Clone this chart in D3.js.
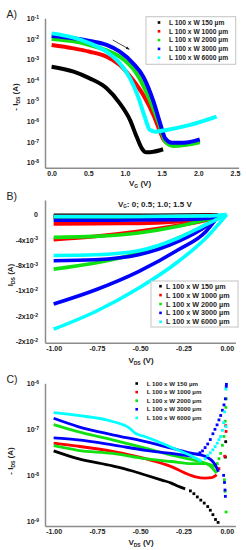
<!DOCTYPE html>
<html>
<head>
<meta charset="utf-8">
<script src="https://cdnjs.cloudflare.com/ajax/libs/d3/7.8.5/d3.min.js"></script>
<style>
  body { margin: 0; background: #fff; }
  svg { display: block; font-family: "Liberation Sans", Arial, sans-serif; }
  .axis path { stroke: #8c8c8c; stroke-width: 1.5; }
  .axis line { display: none; }
  .axis text { fill: #222; font-size: 7px; font-weight: bold; font-family: "Liberation Sans", Arial, sans-serif; }
  .title { fill: #222; font-size: 8px; font-weight: bold; }
  .legend text { fill: #222; font-weight: bold; }
</style>
</head>
<body>
<svg id="chart" width="246" height="550"></svg>
<script>
var seriesNames = ['L 100 x W 150 \u00b5m', 'L 100 x W 1000 \u00b5m', 'L 100 x W 2000 \u00b5m',
  'L 100 x W 3000 \u00b5m', 'L 100 x W 6000 \u00b5m'];
var seriesColors = ['#000000', '#ff0000', '#11e011', '#0000ff', '#00ffff'];

// A) transfer curves, [VG (V), -IDS (A)]
var transferW150 = [[0, 4.5e-4], [0.3, 2.6e-4], [0.52, 1.23e-4], [0.75, 4.1e-5], [0.93, 7.6e-6],
  [1.07, 1.17e-6], [1.16, 1.8e-7], [1.23, 5.0e-8], [1.29, 3.2e-8], [1.39, 3.4e-8], [1.52, 4.5e-8]];
var transferW1000 = [[0, 5.1e-3], [0.3, 3.5e-3], [0.52, 2.4e-3], [0.75, 1.38e-3], [0.93, 5.5e-4],
  [1.11, 1.02e-4], [1.25, 1.9e-5], [1.39, 2.0e-6], [1.48, 3.2e-7], [1.53, 1.26e-7], [1.61, 8.1e-8],
  [1.75, 7.2e-8], [2.02, 1.17e-7]];
var transferW2000 = [[0, 1.0e-2], [0.3, 7.6e-3], [0.52, 5.1e-3], [0.75, 2.8e-3], [0.93, 1.38e-3],
  [1.16, 2.1e-4], [1.34, 1.1e-5], [1.48, 5.6e-7], [1.55, 1.05e-7], [1.66, 6.5e-8], [2.02, 9.8e-8]];
var transferW3000 = [[0, 1.38e-2], [0.3, 1.07e-2], [0.52, 7.9e-3], [0.75, 5.1e-3], [0.93, 2.4e-3],
  [1.11, 6.6e-4], [1.25, 1.48e-4], [1.39, 9.1e-6], [1.48, 8.1e-7], [1.55, 1.5e-7], [1.64, 9.3e-8],
  [1.8, 9.3e-8], [2.02, 1.35e-7]];
var transferW6000 = [[0, 1.86e-2], [0.3, 1.15e-2], [0.52, 6.2e-3], [0.75, 2.4e-3], [0.93, 6.6e-4],
  [1.07, 1.23e-4], [1.18, 1.6e-5], [1.27, 1.7e-6], [1.34, 3.9e-7], [1.41, 3.2e-7], [1.57, 3.9e-7],
  [1.89, 6.8e-7], [2.25, 1.7e-6]];
var transferTicksX = [0, 0.5, 1.0, 1.5, 2.0, 2.5];
var transferTicksY = [1e-8, 1e-7, 1e-6, 1e-5, 1e-4, 1e-3, 1e-2, 1e-1];

// B) output curves for VG = 0; 0.5; 1.0; 1.5 V, [VDS (V), IDS (A)]
var outputW150 = [
  [[-1, -0.00045], [-0.76, -0.00043], [-0.51, -0.0004], [-0.28, -0.0003], [-0.12, -0.00017], [-0.05, -0.00005]],
  [[-1, -0.0001], [-0.51, -0.0001], [-0.05, -0.00002]]
];
var outputW1000 = [
  [[-1, -0.00396], [-0.76, -0.00344], [-0.51, -0.00265], [-0.28, -0.0017], [-0.12, -0.0009], [-0.05, -0.0003]],
  [[-1, -0.00147], [-0.76, -0.00143], [-0.51, -0.00138], [-0.28, -0.00111], [-0.12, -0.00074], [-0.05, -0.0003]],
  [[-1, -0.0003], [-0.51, -0.0003], [-0.05, -0.0001]]
];
var outputW2000 = [
  [[-1, -0.0086], [-0.76, -0.00765], [-0.51, -0.00607], [-0.28, -0.00369], [-0.12, -0.00158], [-0.05, -0.0003]],
  [[-1, -0.0036], [-0.76, -0.00344], [-0.51, -0.0029], [-0.28, -0.00185], [-0.12, -0.0008], [-0.05, -0.0003]],
  [[-1, -0.0005], [-0.51, -0.00048], [-0.12, -0.0003], [-0.05, -0.0002]]
];
var outputW3000 = [
  [[-1, -0.0141], [-0.76, -0.01189], [-0.51, -0.00899], [-0.28, -0.00555], [-0.12, -0.00265], [-0.05, -0.0003]],
  [[-1, -0.00729], [-0.76, -0.00713], [-0.51, -0.00634], [-0.28, -0.00423], [-0.12, -0.00185], [-0.05, -0.0003]],
  [[-1, -0.0009], [-0.76, -0.0009], [-0.51, -0.00085], [-0.28, -0.0008], [-0.12, -0.0006], [-0.05, -0.0003]]
];
var outputW6000 = [
  [[-1, -0.01807], [-0.76, -0.01532], [-0.51, -0.01162], [-0.28, -0.0074], [-0.12, -0.00369], [0, 0]],
  [[-1, -0.00645], [-0.76, -0.00634], [-0.51, -0.00571], [-0.28, -0.00369], [-0.12, -0.00158], [0, 0]],
  [[-1, -0.0003], [-0.51, -0.0003], [-0.12, -0.0002], [0, 0]]
];
var outputTicksY = [0, -0.004, -0.008, -0.012, -0.016, -0.02];
var outputTickLabels = [['0', ''], ['-4x10', '-3'], ['-8x10', '-3'], ['-1x10', '-2'], ['-2x10', '-2'], ['-2x10', '-2']];
var vdsTicks = [-1.0, -0.75, -0.5, -0.25, 0];

// C) -IDS vs VDS at VG = 1.5 V; dense part drawn as a band, sparse points as squares
var offW150 = [[-1.0, 3.4e-8], [-0.86, 2.3e-8], [-0.66, 1.6e-8], [-0.55, 1.26e-8], [-0.47, 1.02e-8],
  [-0.375, 7.9e-9], [-0.32, 6.8e-9], [-0.28, 5.8e-9], [-0.24, 5.1e-9]];
var offW150Pts = [[-0.21, 4.6e-9], [-0.19, 4.0e-9], [-0.17, 3.4e-9], [-0.15, 2.9e-9], [-0.13, 2.5e-9],
  [-0.11, 2.1e-9], [-0.095, 1.75e-9], [-0.08, 1.4e-9], [-0.065, 1.1e-9], [-0.05, 9.5e-10],
  [-0.006, 5.4e-8], [-0.008, 2.5e-8]];
var offW1000 = [[-1.0, 5.0e-8], [-0.86, 4.3e-8], [-0.66, 3.3e-8], [-0.47, 2.3e-8], [-0.32, 1.55e-8],
  [-0.24, 1.12e-8], [-0.18, 9.3e-9], [-0.125, 8.7e-9], [-0.087, 8.9e-9], [-0.058, 1.02e-8]];
var offW1000Pts = [[-0.045, 1.4e-8], [-0.012, 2.6e-8], [-0.006, 1.2e-7], [-0.004, 9.0e-8]];
var offW2000 = [
  [[-1.0, 1.26e-7], [-0.86, 8.9e-8], [-0.66, 5.9e-8], [-0.47, 3.9e-8], [-0.32, 2.75e-8],
    [-0.2, 2.2e-8], [-0.105, 1.7e-8], [-0.058, 1.12e-8]],
  [[-1.0, 4.4e-8], [-0.86, 3.5e-8], [-0.66, 3.0e-8], [-0.47, 2.3e-8], [-0.32, 2.0e-8],
    [-0.2, 1.8e-8], [-0.125, 1.8e-8], [-0.067, 1.55e-8]]
];
var offW2000Pts = [[-0.055, 1.8e-8], [-0.045, 2.3e-8], [-0.035, 3.0e-8], [-0.025, 4.5e-8], [-0.016, 7.0e-8],
  [-0.009, 1.5e-7], [-0.005, 3.0e-7], [-0.003, 4.6e-7], [-0.014, 8.0e-9], [-0.01, 4.5e-9],
  [-0.004, 1.6e-9]];
var offW3000 = [
  [[-1.0, 1.74e-7], [-0.86, 1.15e-7], [-0.66, 7.6e-8], [-0.47, 5.4e-8], [-0.32, 3.9e-8],
    [-0.2, 3.0e-8], [-0.125, 2.6e-8], [-0.067, 1.7e-8], [-0.048, 1.2e-8]],
  [[-1.0, 6.5e-8], [-0.86, 5.9e-8], [-0.66, 4.6e-8], [-0.47, 3.5e-8], [-0.32, 3.0e-8],
    [-0.2, 2.6e-8]]
];
var offW3000Pts = [[-0.17, 2.9e-8], [-0.155, 3.1e-8], [-0.14, 3.4e-8], [-0.125, 4.0e-8], [-0.11, 4.8e-8],
  [-0.095, 6.0e-8], [-0.08, 8.0e-8], [-0.068, 1.0e-7], [-0.056, 1.25e-7], [-0.045, 1.6e-7],
  [-0.035, 2.0e-7], [-0.025, 2.6e-7], [-0.016, 3.4e-7], [-0.008, 4.6e-7], [-0.003, 8.5e-7],
  [-0.002, 9.5e-7], [-0.018, 1.0e-8], [-0.013, 7.0e-9], [-0.01, 4.8e-9], [-0.008, 3.5e-9]];
var offW6000 = [[-1.0, 2.3e-7], [-0.86, 2.0e-7], [-0.66, 1.48e-7], [-0.56, 1.05e-7], [-0.53, 8.3e-8],
  [-0.47, 6.9e-8], [-0.375, 5.0e-8], [-0.28, 3.5e-8], [-0.2, 2.6e-8], [-0.145, 2.0e-8]];
var offW6000Pts = [[-0.125, 2.3e-8], [-0.11, 2.7e-8], [-0.095, 3.1e-8], [-0.08, 3.6e-8], [-0.067, 4.2e-8],
  [-0.055, 5.0e-8], [-0.045, 6.0e-8], [-0.035, 7.0e-8], [-0.025, 9.5e-8], [-0.018, 1.4e-7],
  [-0.012, 2.4e-7], [-0.005, 7.5e-7], [-0.004, 1.15e-7]];
var offTicksY = [1e-9, 1e-8, 1e-7, 1e-6];

var svg = d3.select('#chart');
var fmt1 = function(d) { return d.toFixed(1); };
var fmt2 = function(d) { return d.toFixed(2); };

// replaces a tick label with base + superscript
function supLabel(text, base, sup) {
  text.text(null);
  text.append('tspan').text(base);
  if (sup) {
    text.append('tspan').attr('dy', '-0.45em').attr('font-size', '5px').text(sup);
  }
}

function titleText(g, x, y, parts, rotate) {
  var t = g.append('text').attr('class', 'title')
    .attr('text-anchor', 'middle')
    .attr('transform', 'translate(' + x + ',' + y + ')' + (rotate ? ' rotate(-90)' : ''));
  parts.forEach(function(p) {
    var s = t.append('tspan').text(p[0]);
    if (p[1] === 'sub') { s.attr('font-size', '5px').attr('dy', '2'); }
    if (p[1] === 'back') { s.attr('dy', '-2'); }
  });
  return t;
}

function legend(g, items, mx, tx, y0, step, size, box) {
  var lg = g.append('g').attr('class', 'legend');
  if (box) {
    lg.append('rect').attr('x', box[0]).attr('y', box[1]).attr('width', box[2]).attr('height', box[3])
      .attr('fill', '#fff').attr('stroke', '#c4c4c4').attr('stroke-width', 1);
  }
  items.forEach(function(name, i) {
    lg.append('rect').attr('x', mx - 1.3).attr('y', y0 + i * step - 1.3)
      .attr('width', 2.6).attr('height', 2.6).attr('fill', seriesColors[i]);
    lg.append('text').attr('x', tx).attr('y', y0 + i * step).attr('dy', '0.35em')
      .attr('font-size', size + 'px').text(name);
  });
}

function panelLabel(txt, x, y) {
  svg.append('text').attr('x', x).attr('y', y).attr('font-size', '10.5px')
    .attr('fill', '#222').text(txt);
}

// ---------- A) ----------
(function() {
  var g = svg.append('g');
  var x = d3.scaleLinear().domain([-0.09, 2.55]).range([45, 238.6]);
  var y = d3.scaleLog().domain([Math.pow(10, -8.24), 0.1]).range([167.7, 18.3]);

  g.append('g').attr('class', 'axis').attr('transform', 'translate(0,167.7)')
    .call(d3.axisBottom(x).tickValues(transferTicksX).tickFormat(fmt1).tickSize(0).tickPadding(3.5));
  g.append('g').attr('class', 'axis').attr('transform', 'translate(45,0)')
    .call(d3.axisLeft(y).tickValues(transferTicksY).tickSize(0).tickPadding(6))
    .selectAll('.tick text').each(function(d) {
      supLabel(d3.select(this), '10', String(Math.round(Math.log10(d))));
    });

  var line = d3.line().x(function(d) { return x(d[0]); }).y(function(d) { return y(d[1]); })
    .curve(d3.curveMonotoneX);
  var curves = [transferW150, transferW1000, transferW2000, transferW3000, transferW6000];
  g.selectAll('path.curve').data(curves).enter().append('path')
    .attr('class', 'curve').attr('d', line).attr('fill', 'none')
    .attr('stroke', function(d, i) { return seriesColors[i]; })
    .attr('stroke-width', 4).attr('stroke-linejoin', 'round');

  // sweep direction arrow
  svg.append('defs').append('marker').attr('id', 'arrowA').attr('viewBox', '0 0 10 10')
    .attr('refX', 9).attr('refY', 5).attr('markerWidth', 5).attr('markerHeight', 5)
    .attr('orient', 'auto').append('path').attr('d', 'M0,1L10,5L0,9z').attr('fill', '#222');
  g.append('line').attr('x1', 112.7).attr('y1', 40).attr('x2', 129.3).attr('y2', 49.3)
    .attr('stroke', '#222').attr('stroke-width', 0.8).attr('marker-end', 'url(#arrowA)');

  legend(g, seriesNames, 159, 169, 22.5, 8.8, 6.7, [146, 16.7, 89.7, 47.6]);

  titleText(g, 140, 185.5, [['V'], ['G', 'sub'], [' (V)', 'back']]);
  titleText(g, 17.5, 97, [['- I'], ['DS', 'sub'], [' (A)', 'back']], true);
  panelLabel('A)', 6.5, 18);
})();

// ---------- B) ----------
(function() {
  var g = svg.append('g');
  var x = d3.scaleLinear().domain([-1.05, 0.05]).range([45, 235.4]);
  var y = d3.scaleLinear().domain([-0.0202, 0.0023]).range([342.7, 200]);

  g.append('g').attr('class', 'axis').attr('transform', 'translate(0,342.7)')
    .call(d3.axisBottom(x).tickValues(vdsTicks).tickFormat(fmt2).tickSize(0).tickPadding(3));
  g.append('g').attr('class', 'axis').attr('transform', 'translate(45,0)')
    .call(d3.axisLeft(y).tickValues(outputTicksY).tickSize(0).tickPadding(7))
    .selectAll('.tick text').each(function(d, i) {
      supLabel(d3.select(this), outputTickLabels[i][0], outputTickLabels[i][1]);
    });

  var line = d3.line().x(function(d) { return x(d[0]); }).y(function(d) { return y(d[1]); })
    .curve(d3.curveMonotoneX);
  var groups = [outputW150, outputW1000, outputW2000, outputW3000, outputW6000];
  groups.forEach(function(curves, i) {
    g.append('g').selectAll('path').data(curves).enter().append('path')
      .attr('d', line).attr('fill', 'none').attr('stroke', seriesColors[i])
      .attr('stroke-width', 3.6);
  });

  legend(g, seriesNames, 160.5, 166, 286.2, 8.9, 7.2, [151, 281, 87, 46]);

  var ann = g.append('text').attr('class', 'title').attr('font-size', '7px')
    .attr('x', 118).attr('y', 206.5);
  ann.append('tspan').text('V');
  ann.append('tspan').attr('font-size', '4.5px').attr('dy', '1.5').text('G');
  ann.append('tspan').attr('dy', '-1.5').text(': 0; 0.5; 1.0; 1.5 V');

  titleText(g, 141, 363, [['V'], ['DS', 'sub'], [' (V)', 'back']]);
  titleText(g, 13, 275, [['I'], ['DS', 'sub'], [' (A)', 'back']], true);
  panelLabel('B)', 6.5, 200);
})();

// ---------- C) ----------
(function() {
  var g = svg.append('g');
  var x = d3.scaleLinear().domain([-1.05, 0.05]).range([45, 235.4]);
  var y = d3.scaleLog().domain([Math.pow(10, -9.1), 1e-6]).range([526, 383.3]);

  g.append('g').attr('class', 'axis').attr('transform', 'translate(0,526)')
    .call(d3.axisBottom(x).tickValues(vdsTicks).tickFormat(fmt2).tickSize(0).tickPadding(3));
  g.append('g').attr('class', 'axis').attr('transform', 'translate(45,0)')
    .call(d3.axisLeft(y).tickValues(offTicksY).tickSize(0).tickPadding(6))
    .selectAll('.tick text').each(function(d) {
      supLabel(d3.select(this), '10', String(Math.round(Math.log10(d))));
    });

  var line = d3.line().x(function(d) { return x(d[0]); }).y(function(d) { return y(d[1]); })
    .curve(d3.curveMonotoneX);
  var bands = [[offW150], [offW1000], offW2000, offW3000, [offW6000]];
  var points = [offW150Pts, offW1000Pts, offW2000Pts, offW3000Pts, offW6000Pts];
  bands.forEach(function(curves, i) {
    var s = g.append('g');
    s.selectAll('path').data(curves).enter().append('path')
      .attr('d', line).attr('fill', 'none').attr('stroke', seriesColors[i])
      .attr('stroke-width', 2.8);
    s.selectAll('rect').data(points[i]).enter().append('rect')
      .attr('x', function(d) { return x(d[0]) - 1.4; })
      .attr('y', function(d) { return y(d[1]) - 1.4; })
      .attr('width', 2.8).attr('height', 2.8).attr('fill', seriesColors[i]);
  });

  legend(g, seriesNames, 136.7, 146.7, 383.5, 8.6, 6.2, null);

  titleText(g, 141, 545, [['V'], ['DS', 'sub'], [' (V)', 'back']]);
  titleText(g, 13, 461, [['- I'], ['DS', 'sub'], [' (A)', 'back']], true);
  panelLabel('C)', 6.5, 383);
})();
</script>
</body>
</html>
